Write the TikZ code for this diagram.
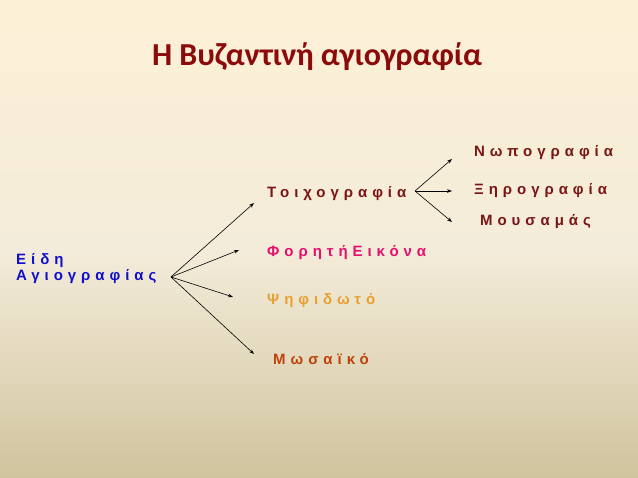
\documentclass[tikz,border=0pt]{standalone}
\usepackage{fontspec}
\setmainfont{Liberation Sans}
\newfontfamily\spaced[LetterSpace=33]{Liberation Sans}
\newfontfamily\titlefont{Carlito}
\usetikzlibrary{arrows.meta}
\definecolor{bgtop}{HTML}{FCF0D6}
\definecolor{bgmid}{HTML}{F4ECDA}
\definecolor{bgbot}{HTML}{D0C49E}
\definecolor{titlered}{HTML}{8B0A0A}
\definecolor{eidblue}{HTML}{1010CC}
\definecolor{maroon}{HTML}{7A1515}
\definecolor{pinkred}{HTML}{E4106E}
\definecolor{gold}{HTML}{E8A030}
\definecolor{rust}{HTML}{C0400A}
\tikzset{
  lbl/.style={anchor=west, inner sep=0pt, font=\spaced\bfseries\fontsize{15}{16}\selectfont},
  arr/.style={-{Stealth[length=5pt,width=3.6pt]}, line width=0.6pt, black},
  ttl/.style={font=\titlefont\bfseries\fontsize{32}{34}\selectfont},
}
\begin{document}
\begin{tikzpicture}[x=1pt,y=1pt]
\useasboundingbox (0,0) rectangle (638,478);
\shade[top color=bgtop, bottom color=bgmid] (0,228) rectangle (638,478);
\shade[top color=bgmid, bottom color=bgbot] (0,0) rectangle (638,228.5);
% title
\node (title) [ttl, text=titlered] at (317,421) {Η Βυζαντινή αγιογραφία};
% root
\node (root) [lbl, text=eidblue, align=left] at (16,209) {Είδη\\Αγιογραφίας};
\coordinate (o) at (171,201);
% level 1
\node (toix) [lbl, text=maroon] at (267,284) {Τοιχογραφία};
\node (fore) [lbl, text=pinkred] at (267,225) {ΦορητήΕικόνα};
\node (psif) [lbl, text=gold] at (267,177) {Ψηφιδωτό};
\node (mos)  [lbl, text=rust] at (273,119) {Μωσαϊκό};
\coordinate (t1) at (254,275);
\coordinate (t2) at (239,228);
\coordinate (t3) at (233,181);
\coordinate (t4) at (254,124);
\draw[arr] (o) -- (t1);
\draw[arr] (o) -- (t2);
\draw[arr] (o) -- (t3);
\draw[arr] (o) -- (t4);
% level 2
\coordinate (s) at (415,287);
\node (nwp) [lbl, text=maroon] at (474,325) {Νωπογραφία};
\node (xir) [lbl, text=maroon] at (474,287) {Ξηρογραφία};
\node (mou) [lbl, text=maroon] at (480,256) {Μουσαμάς};
\coordinate (u1) at (452,319);
\coordinate (u2) at (452,287);
\coordinate (u3) at (452,256);
\draw[arr] (s) -- (u1);
\draw[arr] (s) -- (u2);
\draw[arr] (s) -- (u3);
\end{tikzpicture}
\end{document}
